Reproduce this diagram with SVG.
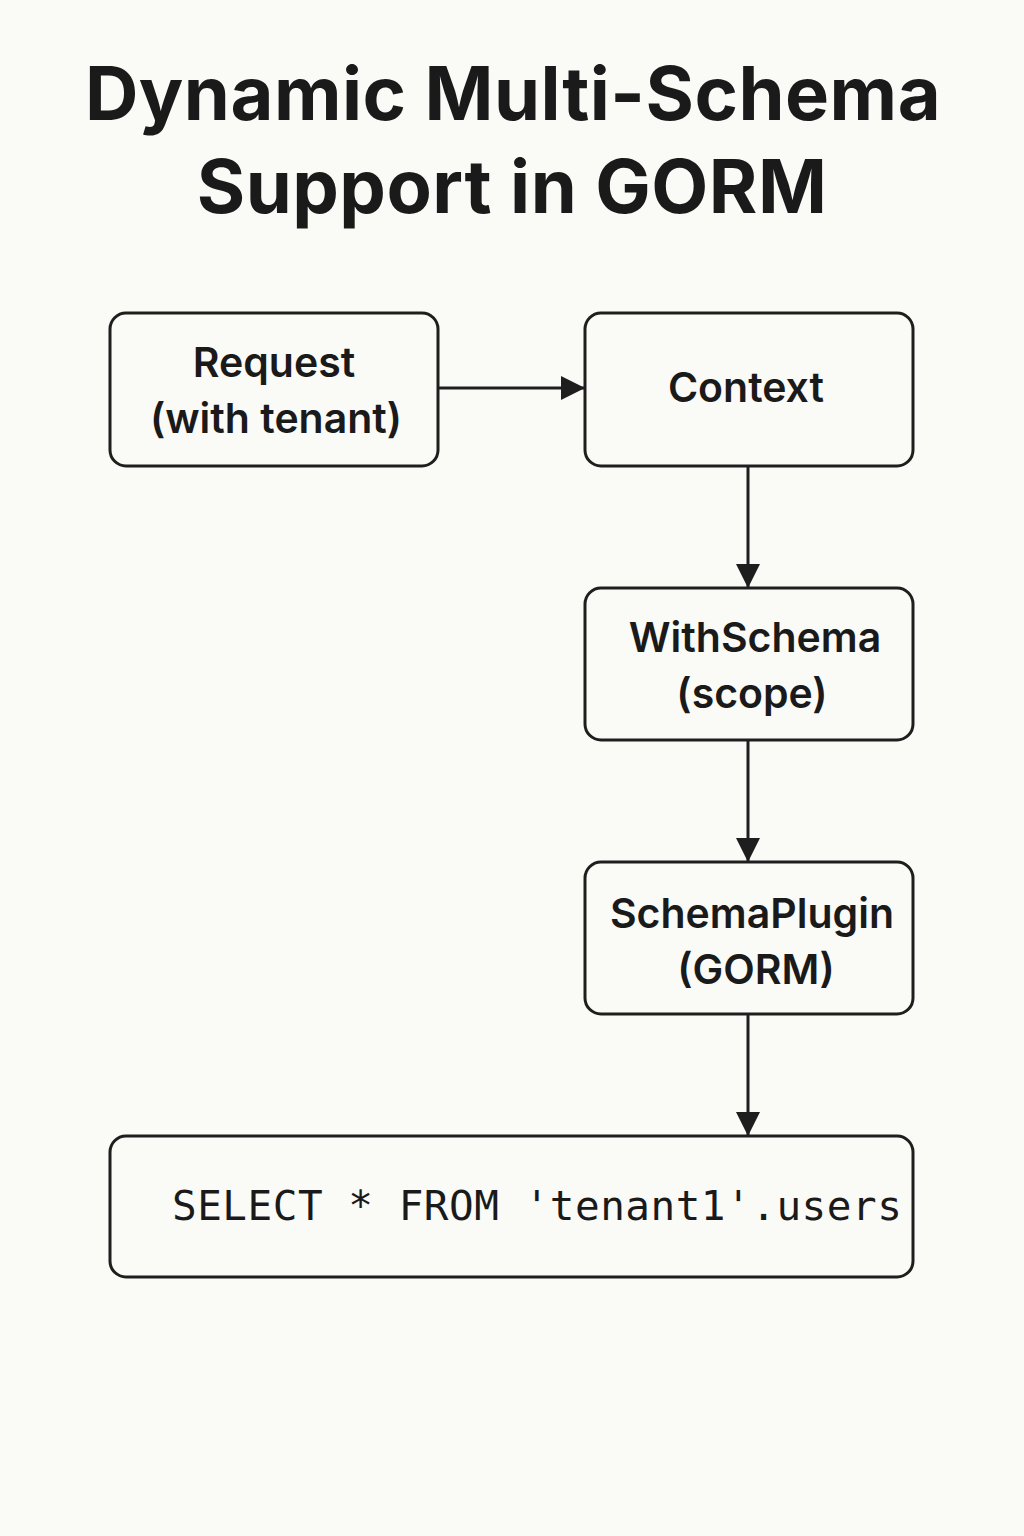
<svg xmlns="http://www.w3.org/2000/svg" width="1024" height="1536" viewBox="0 0 1024 1536">
<defs>
<style>
.box{fill:#fafaf7;stroke:#1e1e1e;stroke-width:3}
.t{font-family:"Inter","Liberation Sans",sans-serif;font-weight:600;font-size:41px;fill:#1a1a1a;text-anchor:middle}
.c{stroke:#1e1e1e;stroke-width:3;fill:none}
</style>
<marker id="b" viewBox="0 0 24 24" refX="24" refY="12" markerWidth="24" markerHeight="24" markerUnits="userSpaceOnUse" orient="auto">
<path d="M0,0 L24,12 L0,24 z" fill="#1e1e1e"/>
</marker>
</defs>
<rect width="1024" height="1536" fill="#fafaf7"/>
<g id="title">
<text x="513" y="120" class="t" style="font-size:74px;font-weight:700;letter-spacing:0.5px">Dynamic Multi-Schema</text>
<text x="512" y="213" class="t" style="font-size:74px;font-weight:700;letter-spacing:0.5px">Support in GORM</text>
</g>
<g id="connectors">
<line class="c" x1="438" y1="388" x2="585" y2="388" marker-end="url(#b)"/>
<line class="c" x1="748" y1="466" x2="748" y2="588" marker-end="url(#b)"/>
<line class="c" x1="748" y1="740" x2="748" y2="862" marker-end="url(#b)"/>
<line class="c" x1="748" y1="1014" x2="748" y2="1136" marker-end="url(#b)"/>
</g>
<g id="request">
<rect class="box" x="110" y="313" width="328" height="153" rx="16"/>
<text class="t" x="274" y="377">Request</text>
<text class="t" x="276" y="433">(with tenant)</text>
</g>
<g id="context">
<rect class="box" x="585" y="313" width="328" height="153" rx="16"/>
<text class="t" x="746" y="402">Context</text>
</g>
<g id="withschema">
<rect class="box" x="585" y="588" width="328" height="152" rx="16"/>
<text class="t" x="755" y="652">WithSchema</text>
<text class="t" x="752" y="708">(scope)</text>
</g>
<g id="schemaplugin">
<rect class="box" x="585" y="862" width="328" height="152" rx="16"/>
<text class="t" x="752" y="928">SchemaPlugin</text>
<text class="t" x="756" y="984">(GORM)</text>
</g>
<g id="sql">
<rect class="box" x="110" y="1136" width="803" height="141" rx="16"/>
<text x="172" y="1220" style="font-family:'DejaVu Sans Mono','Liberation Mono',monospace;font-size:41px;letter-spacing:0.5px;fill:#1a1a1a">SELECT * FROM 'tenant1'.users</text>
</g>
</svg>
